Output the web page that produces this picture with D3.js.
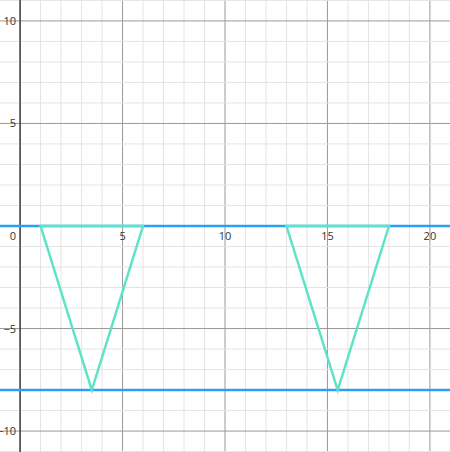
<!DOCTYPE html>
<html>
  <head>
    <meta charset="utf-8">
    <script src="https://cdn.jsdelivr.net/npm/d3@7"></script>
    <style>
      body { margin: 0; background: #fff; }
      text { font-family: "Open Sans", Arial, sans-serif; font-size: 11px; fill: #333; }
    </style>
  </head>
  <body>
    <svg id="chart" width="450" height="452"></svg>
    <script>
      // data
      var xTicks = [5, 10, 15, 20];
      var yTicks = [10, 5, -5, -10];
      var hLines = [0, -8];
      var triangles = [
        [[1, 0], [6, 0], [3.5, -8]],
        [[13, 0], [18, 0], [15.5, -8]]
      ];

      var width = 450, height = 452;
      var svg = d3.select("#chart");

      var x = d3.scaleLinear().domain([-0.98, 20.98]).range([0, width]);
      var y = d3.scaleLinear().domain([11.02, -11.02]).range([0, height]);

      // grid
      var minor = svg.append("g");
      minor.selectAll(".vx").data(d3.range(0, 21))
        .enter().append("line")
          .attr("x1", function(d) { return x(d); }).attr("x2", function(d) { return x(d); })
          .attr("y1", 0).attr("y2", height)
          .attr("stroke", function(d) { return d % 5 == 0 ? "#999" : "#e4e4e4"; })
          .attr("stroke-width", 1);
      minor.selectAll(".hy").data(d3.range(-11, 12))
        .enter().append("line")
          .attr("y1", function(d) { return y(d); }).attr("y2", function(d) { return y(d); })
          .attr("x1", 0).attr("x2", width)
          .attr("stroke", function(d) { return d % 5 == 0 ? "#999" : "#e4e4e4"; })
          .attr("stroke-width", 1);

      // axes
      svg.append("line")
        .attr("x1", x(0)).attr("x2", x(0)).attr("y1", 0).attr("y2", height)
        .attr("stroke", "#222").attr("stroke-width", 1.2);
      svg.append("line")
        .attr("x1", 0).attr("x2", width).attr("y1", y(0)).attr("y2", y(0))
        .attr("stroke", "#222").attr("stroke-width", 1.2);

      // tick labels
      svg.selectAll(".xl").data(xTicks)
        .enter().append("text")
          .attr("x", function(d) { return x(d); })
          .attr("y", y(0) + 14)
          .attr("text-anchor", "middle")
          .text(function(d) { return d; });
      svg.selectAll(".yl").data(yTicks)
        .enter().append("text")
          .attr("x", x(0) - 4)
          .attr("y", function(d) { return y(d) + 4; })
          .attr("text-anchor", "end")
          .text(function(d) { return d < 0 ? "\u2212" + (-d) : d; });
      svg.append("text")
        .attr("x", x(0) - 4).attr("y", y(0) + 14)
        .attr("text-anchor", "end").text("0");

      // horizontal lines
      svg.selectAll(".hl").data(hLines)
        .enter().append("line")
          .attr("x1", 0).attr("x2", width)
          .attr("y1", function(d) { return y(d); }).attr("y2", function(d) { return y(d); })
          .attr("stroke", "#2d9ff0").attr("stroke-width", 2.5);

      // triangles
      var line = d3.line()
        .x(function(d) { return x(d[0]); })
        .y(function(d) { return y(d[1]); })
        .curve(d3.curveLinearClosed);
      svg.selectAll(".tri").data(triangles)
        .enter().append("path")
          .attr("d", line)
          .attr("fill", "none")
          .attr("stroke", "#5ee3c9")
          .attr("stroke-width", 2.5)
          .attr("stroke-linejoin", "miter");
    </script>
  </body>
</html>
